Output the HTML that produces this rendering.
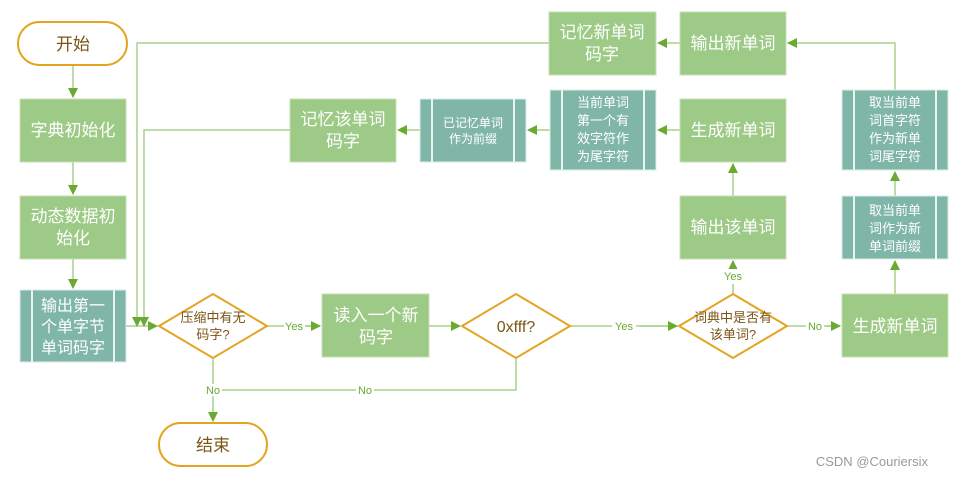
<!DOCTYPE html>
<html><head><meta charset="utf-8"><style>
html,body{margin:0;padding:0;background:#fff;width:960px;height:477px;overflow:hidden}
svg{display:block}
.g{fill:#9dca86;stroke:#c5e0b4;stroke-width:1}
.t{fill:#80b6a8;stroke:#d9ece6;stroke-width:1}
.bar{stroke:#e8f4f0;stroke-width:2}
.w{fill:#fff;font-family:"Liberation Sans","Noto Sans CJK SC",sans-serif;text-anchor:middle}
.b{fill:#7a5514;font-family:"Liberation Sans","Noto Sans CJK SC",sans-serif;text-anchor:middle}
.ln{stroke:#a9d18e;stroke-width:1.5;fill:none}
.ah{fill:#6aaa32}
.d{fill:#fff;stroke:#e3a521;stroke-width:2}
.lb{fill:#6aaa32;font-family:"Liberation Sans",sans-serif;font-size:11px;text-anchor:middle}
</style></head><body>
<svg width="960" height="477" viewBox="0 0 960 477">
<defs>
<marker id="a" markerWidth="10" markerHeight="10" refX="9" refY="5" orient="auto" markerUnits="userSpaceOnUse">
<path d="M0,0 L10,5 L0,10 z" fill="#6aaa32"/></marker>
</defs>
<!-- connectors -->
<g class="ln">
<path d="M73,65 V97" marker-end="url(#a)"/>
<path d="M73,162 V194" marker-end="url(#a)"/>
<path d="M73,259 V288" marker-end="url(#a)"/>
<path d="M126,326 H157" marker-end="url(#a)"/>
<path d="M549,43 H137 V326" marker-end="url(#a)"/>
<path d="M290,130 H144 V326" marker-end="url(#a)"/>
<path d="M267,326 H284 M305,326 H320" />
<path d="M305,326 H320" marker-end="url(#a)"/>
<path d="M429,326 H460" marker-end="url(#a)"/>
<path d="M570,326 H612 M636,326 H677"/>
<path d="M640,326 H677" marker-end="url(#a)"/>
<path d="M787,326 H806 M824,326 H840"/>
<path d="M826,326 H840" marker-end="url(#a)"/>
<path d="M733,293 V284 M733,268 V261"/>
<path d="M733,270 V261" marker-end="url(#a)"/>
<path d="M733,196 V164" marker-end="url(#a)"/>
<path d="M895,294 V261" marker-end="url(#a)"/>
<path d="M895,196 V172" marker-end="url(#a)"/>
<path d="M895,90 V43 H788" marker-end="url(#a)"/>
<path d="M680,43 H658" marker-end="url(#a)"/>
<path d="M680,130 H658" marker-end="url(#a)"/>
<path d="M550,130 H528" marker-end="url(#a)"/>
<path d="M420,130 H398" marker-end="url(#a)"/>
<path d="M213,358 V421" marker-end="url(#a)"/>
<path d="M516,358 V390 H213"/>
</g>
<!-- labels on lines -->
<rect x="284" y="319" width="21" height="13" fill="#fff"/><text class="lb" x="294" y="330">Yes</text>
<rect x="612" y="319" width="24" height="13" fill="#fff"/><text class="lb" x="624" y="330">Yes</text>
<rect x="806" y="319" width="18" height="13" fill="#fff"/><text class="lb" x="815" y="330">No</text>
<rect x="722" y="269" width="22" height="14" fill="#fff"/><text class="lb" x="733" y="280">Yes</text>
<rect x="204" y="384" width="18" height="12" fill="#fff"/><text class="lb" x="213" y="394">No</text>
<rect x="356" y="384" width="18" height="12" fill="#fff"/><text class="lb" x="365" y="394">No</text>
<!-- ovals -->
<rect x="18" y="22" width="109" height="43" rx="21.5" fill="#fff" stroke="#e3a521" stroke-width="2"/>
<text class="b" x="73" y="50" font-size="17">开始</text>
<rect x="159" y="423" width="108" height="43" rx="21.5" fill="#fff" stroke="#e3a521" stroke-width="2"/>
<text class="b" x="213" y="451" font-size="17">结束</text>
<!-- green boxes -->
<rect class="g" x="20" y="99" width="106" height="63"/><text class="w" x="73" y="136" font-size="17">字典初始化</text>
<rect class="g" x="20" y="196" width="106" height="63"/><text class="w" x="73" y="222" font-size="17">动态数据初</text><text class="w" x="73" y="244" font-size="17">始化</text>
<rect class="g" x="322" y="294" width="107" height="63"/><text class="w" x="376" y="321" font-size="17">读入一个新</text><text class="w" x="376" y="343" font-size="17">码字</text>
<rect class="g" x="842" y="294" width="106" height="63"/><text class="w" x="895" y="332" font-size="17">生成新单词</text>
<rect class="g" x="680" y="196" width="106" height="63"/><text class="w" x="733" y="233" font-size="17">输出该单词</text>
<rect class="g" x="680" y="99" width="106" height="63"/><text class="w" x="733" y="136" font-size="17">生成新单词</text>
<rect class="g" x="680" y="12" width="106" height="63"/><text class="w" x="733" y="49" font-size="17">输出新单词</text>
<rect class="g" x="549" y="12" width="107" height="63"/><text class="w" x="602" y="38" font-size="17">记忆新单词</text><text class="w" x="602" y="60" font-size="17">码字</text>
<rect class="g" x="290" y="99" width="106" height="63"/><text class="w" x="343" y="125" font-size="17">记忆该单词</text><text class="w" x="343" y="147" font-size="17">码字</text>
<!-- subprocess boxes -->
<g>
<rect class="t" x="20" y="290" width="106" height="72"/><line class="bar" x1="32" y1="290" x2="32" y2="362"/><line class="bar" x1="114" y1="290" x2="114" y2="362"/>
<text class="w" x="73" y="311" font-size="16">输出第一</text><text class="w" x="73" y="332" font-size="16">个单字节</text><text class="w" x="73" y="353" font-size="16">单词码字</text>
</g>
<g>
<rect class="t" x="420" y="99" width="106" height="63"/><line class="bar" x1="432" y1="99" x2="432" y2="162"/><line class="bar" x1="514" y1="99" x2="514" y2="162"/>
<text class="w" x="473" y="127" font-size="12">已记忆单词</text><text class="w" x="473" y="143" font-size="12">作为前缀</text>
</g>
<g>
<rect class="t" x="550" y="90" width="106" height="80"/><line class="bar" x1="562" y1="90" x2="562" y2="170"/><line class="bar" x1="644" y1="90" x2="644" y2="170"/>
<text class="w" x="603" y="107" font-size="13">当前单词</text><text class="w" x="603" y="125" font-size="13">第一个有</text><text class="w" x="603" y="143" font-size="13">效字符作</text><text class="w" x="603" y="161" font-size="13">为尾字符</text>
</g>
<g>
<rect class="t" x="842" y="90" width="106" height="80"/><line class="bar" x1="854" y1="90" x2="854" y2="170"/><line class="bar" x1="936" y1="90" x2="936" y2="170"/>
<text class="w" x="895" y="107" font-size="13">取当前单</text><text class="w" x="895" y="125" font-size="13">词首字符</text><text class="w" x="895" y="143" font-size="13">作为新单</text><text class="w" x="895" y="161" font-size="13">词尾字符</text>
</g>
<g>
<rect class="t" x="842" y="196" width="106" height="63"/><line class="bar" x1="854" y1="196" x2="854" y2="259"/><line class="bar" x1="936" y1="196" x2="936" y2="259"/>
<text class="w" x="895" y="215" font-size="13">取当前单</text><text class="w" x="895" y="233" font-size="13">词作为新</text><text class="w" x="895" y="251" font-size="13">单词前缀</text>
</g>
<!-- diamonds -->
<polygon class="d" points="213,294 267,326 213,358 159,326"/>
<text class="b" x="213" y="322" font-size="13">压缩中有无</text><text class="b" x="213" y="339" font-size="13">码字?</text>
<polygon class="d" points="516,294 570,326 516,358 462,326"/>
<text class="b" x="516" y="332" font-size="16">0xfff?</text>
<polygon class="d" points="733,294 787,326 733,358 679,326"/>
<text class="b" x="733" y="322" font-size="13">词典中是否有</text><text class="b" x="733" y="339" font-size="13">该单词?</text>
<text x="928" y="466" font-family="Liberation Sans,sans-serif" font-size="13" fill="#999" text-anchor="end">CSDN @Couriersix</text>
</svg>
</body></html>
